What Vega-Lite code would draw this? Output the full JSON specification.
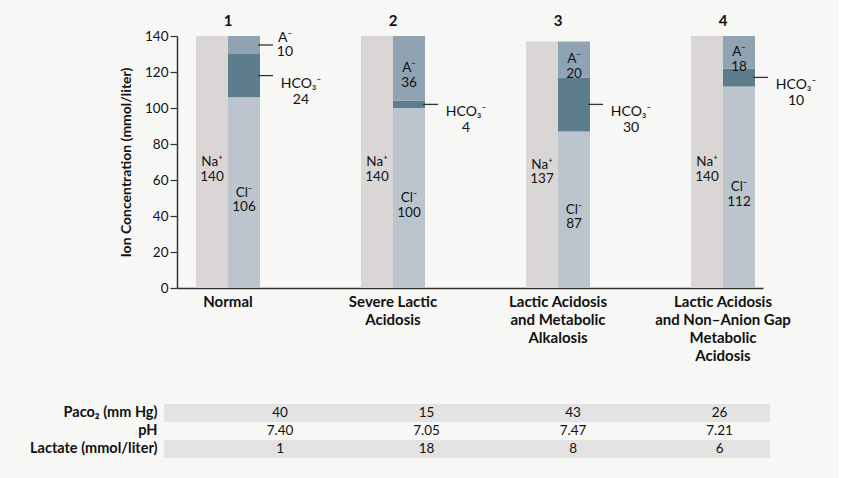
{
  "$schema": "https://vega.github.io/schema/vega-lite/v6.json",
  "background": "#f7f7f5",
  "padding": {"left": 29, "top": 13, "right": 22, "bottom": 21},
  "config": {
    "font": "Lato",
    "view": {"stroke": null},
    "text": {"font": "Lato", "color": "#111111", "fontSize": 13}
  },
  "datasets": {
    "ions": [
      {"case": "1", "ion": "Na", "label": "Na⁺", "side": "cation", "from": 0, "to": 140, "value": 140},
      {"case": "1", "ion": "Cl", "label": "Cl⁻", "side": "anion", "from": 0, "to": 106, "value": 106},
      {"case": "1", "ion": "HCO3", "label": "HCO₃⁻", "side": "anion", "from": 106, "to": 130, "value": 24},
      {"case": "1", "ion": "A", "label": "A⁻", "side": "anion", "from": 130, "to": 140, "value": 10},
      {"case": "2", "ion": "Na", "label": "Na⁺", "side": "cation", "from": 0, "to": 140, "value": 140},
      {"case": "2", "ion": "Cl", "label": "Cl⁻", "side": "anion", "from": 0, "to": 100, "value": 100},
      {"case": "2", "ion": "HCO3", "label": "HCO₃⁻", "side": "anion", "from": 100, "to": 104, "value": 4},
      {"case": "2", "ion": "A", "label": "A⁻", "side": "anion", "from": 104, "to": 140, "value": 36},
      {"case": "3", "ion": "Na", "label": "Na⁺", "side": "cation", "from": 0, "to": 137, "value": 137},
      {"case": "3", "ion": "Cl", "label": "Cl⁻", "side": "anion", "from": 0, "to": 87, "value": 87},
      {"case": "3", "ion": "HCO3", "label": "HCO₃⁻", "side": "anion", "from": 87, "to": 117, "value": 30},
      {"case": "3", "ion": "A", "label": "A⁻", "side": "anion", "from": 117, "to": 137, "value": 20},
      {"case": "4", "ion": "Na", "label": "Na⁺", "side": "cation", "from": 0, "to": 140, "value": 140},
      {"case": "4", "ion": "Cl", "label": "Cl⁻", "side": "anion", "from": 0, "to": 112, "value": 112},
      {"case": "4", "ion": "HCO3", "label": "HCO₃⁻", "side": "anion", "from": 112, "to": 122, "value": 10},
      {"case": "4", "ion": "A", "label": "A⁻", "side": "anion", "from": 122, "to": 140, "value": 18}
    ],
    "cases": [
      {"case": "1", "name": "Normal"},
      {"case": "2", "name": "Severe Lactic\nAcidosis"},
      {"case": "3", "name": "Lactic Acidosis\nand Metabolic\nAlkalosis"},
      {"case": "4", "name": "Lactic Acidosis\nand Non–Anion Gap\nMetabolic\nAcidosis"}
    ],
    "table": [
      {"row": "Paco₂ (mm Hg)", "case": "1", "v": "40"},
      {"row": "Paco₂ (mm Hg)", "case": "2", "v": "15"},
      {"row": "Paco₂ (mm Hg)", "case": "3", "v": "43"},
      {"row": "Paco₂ (mm Hg)", "case": "4", "v": "26"},
      {"row": "pH", "case": "1", "v": "7.40"},
      {"row": "pH", "case": "2", "v": "7.05"},
      {"row": "pH", "case": "3", "v": "7.47"},
      {"row": "pH", "case": "4", "v": "7.21"},
      {"row": "Lactate (mmol/liter)", "case": "1", "v": "1"},
      {"row": "Lactate (mmol/liter)", "case": "2", "v": "18"},
      {"row": "Lactate (mmol/liter)", "case": "3", "v": "8"},
      {"row": "Lactate (mmol/liter)", "case": "4", "v": "6"}
    ]
  },
  "spacing": 116,
  "bounds": "flush",
  "vconcat": [
    {
      "width": 606,
      "height": 252,
      "resolve": {"axis": {"x": "independent", "y": "independent"}},
      "layer": [
        {
          "data": {"name": "ions"},
          "mark": {"type": "bar"},
          "encoding": {
            "x": {
              "field": "case", "type": "nominal",
              "scale": {"domain": ["1", "2", "3", "4"], "range": [13, 599], "paddingInner": 0.6121, "paddingOuter": 0.0818, "align": 0.7037},
              "axis": {"orient": "bottom", "labels": false, "ticks": false, "title": null, "domainColor": "#333333", "domainWidth": 1.5}
            },
            "xOffset": {"field": "side", "type": "nominal", "scale": {"domain": ["cation", "anion"], "paddingInner": 0, "paddingOuter": 0}},
            "y": {
              "field": "to", "type": "quantitative",
              "scale": {"domain": [0, 140], "nice": false, "zero": true},
              "axis": {
                "values": [0, 20, 40, 60, 80, 100, 120, 140], "offset": -13, "grid": false, "labelOverlap": false,
                "title": "Ion Concentration (mmol/liter)", "titleFontWeight": "bold", "titleFontSize": 14, "titleColor": "#111111", "titlePadding": 11,
                "labelFontSize": 13.5, "labelColor": "#111111", "labelPadding": 2,
                "tickSize": 7, "tickColor": "#333333", "tickWidth": 1.2, "domainColor": "#333333", "domainWidth": 1.5
              }
            },
            "y2": {"field": "from"},
            "color": {
              "field": "ion", "type": "nominal",
              "scale": {"domain": ["Na", "Cl", "HCO3", "A"], "range": ["#dbd6d6", "#bcc5cd", "#5e7d8c", "#8fa3b3"]},
              "legend": null
            }
          }
        },
        {
          "data": {"name": "ions"},
          "transform": [
            {"filter": "datum.ion != 'HCO3' && datum.value >= 12"},
            {"calculate": "(datum.from + datum.to) / 2", "as": "mid"},
            {"calculate": "datum.label + '\\n' + datum.value", "as": "txt"}
          ],
          "mark": {"type": "text", "baseline": "middle", "align": "center", "lineBreak": "\n", "lineHeight": 14.5, "fontSize": 13.5},
          "encoding": {
            "x": {"field": "case", "type": "nominal", "axis": null},
            "xOffset": {"field": "side", "type": "nominal"},
            "y": {"field": "mid", "type": "quantitative", "axis": null},
            "text": {"field": "txt", "type": "nominal"}
          }
        },
        {
          "data": {"name": "ions"},
          "transform": [
            {"filter": "datum.ion == 'HCO3' || datum.value < 12"},
            {"calculate": "(datum.from + datum.to) / 2", "as": "mid"}
          ],
          "mark": {"type": "rule", "xOffset": -2, "x2Offset": 13, "color": "#333333", "strokeWidth": 1.3},
          "encoding": {
            "x": {"field": "case", "type": "nominal", "bandPosition": 1, "axis": null},
            "x2": {"field": "case", "bandPosition": 1},
            "y": {"field": "mid", "type": "quantitative", "axis": null}
          }
        },
        {
          "data": {"name": "ions"},
          "transform": [
            {"filter": "datum.ion == 'HCO3'"},
            {"calculate": "(datum.from + datum.to) / 2", "as": "mid"},
            {"calculate": "datum.label + '\\n' + datum.value", "as": "txt"}
          ],
          "mark": {"type": "text", "align": "center", "baseline": "middle", "dx": 41, "dy": 8, "lineBreak": "\n", "lineHeight": 16, "fontSize": 14},
          "encoding": {
            "x": {"field": "case", "type": "nominal", "bandPosition": 1, "axis": null},
            "y": {"field": "mid", "type": "quantitative", "axis": null},
            "text": {"field": "txt", "type": "nominal"}
          }
        },
        {
          "data": {"name": "ions"},
          "transform": [
            {"filter": "datum.ion == 'A' && datum.value < 12"},
            {"calculate": "(datum.from + datum.to) / 2", "as": "mid"},
            {"calculate": "datum.label + '\\n' + datum.value", "as": "txt"}
          ],
          "mark": {"type": "text", "align": "center", "baseline": "middle", "dx": 25, "dy": -7, "lineBreak": "\n", "lineHeight": 14, "fontSize": 14},
          "encoding": {
            "x": {"field": "case", "type": "nominal", "bandPosition": 1, "axis": null},
            "y": {"field": "mid", "type": "quantitative", "axis": null},
            "text": {"field": "txt", "type": "nominal"}
          }
        },
        {
          "data": {"name": "cases"},
          "mark": {"type": "text", "align": "center", "baseline": "top", "dy": 7, "lineBreak": "\n", "lineHeight": 18, "fontWeight": "bold", "fontSize": 15},
          "encoding": {
            "x": {
              "field": "case", "type": "nominal",
              "axis": {"orient": "top", "domain": false, "ticks": false, "title": null, "labelAngle": 0, "labelFontWeight": "bold", "labelFontSize": 15, "labelColor": "#111111", "labelPadding": 8}
            },
            "y": {"datum": 0, "axis": null},
            "text": {"field": "name", "type": "nominal"}
          }
        }
      ]
    },
    {
      "width": 606,
      "height": 54,
      "data": {"name": "table"},
      "layer": [
        {
          "transform": [{"filter": "datum.row != 'pH'"}],
          "mark": {"type": "rect", "color": "#e4e3e3"},
          "encoding": {
            "y": {
              "field": "row", "type": "nominal",
              "scale": {"domain": ["Paco₂ (mm Hg)", "pH", "Lactate (mmol/liter)"], "paddingInner": 0, "paddingOuter": 0},
              "axis": {"title": null, "domain": false, "ticks": false, "labelPadding": 7, "labelFontWeight": "bold", "labelFontSize": 14.5, "labelColor": "#111111"}
            }
          }
        },
        {
          "mark": {"type": "text", "fontSize": 13.5},
          "encoding": {
            "x": {
              "field": "case", "type": "nominal",
              "scale": {"domain": ["1", "2", "3", "4"], "range": [13, 599], "paddingInner": 0.6121, "paddingOuter": 0.0818, "align": 0.7037},
              "axis": null
            },
            "y": {"field": "row", "type": "nominal"},
            "text": {"field": "v", "type": "nominal"}
          }
        }
      ]
    }
  ]
}
